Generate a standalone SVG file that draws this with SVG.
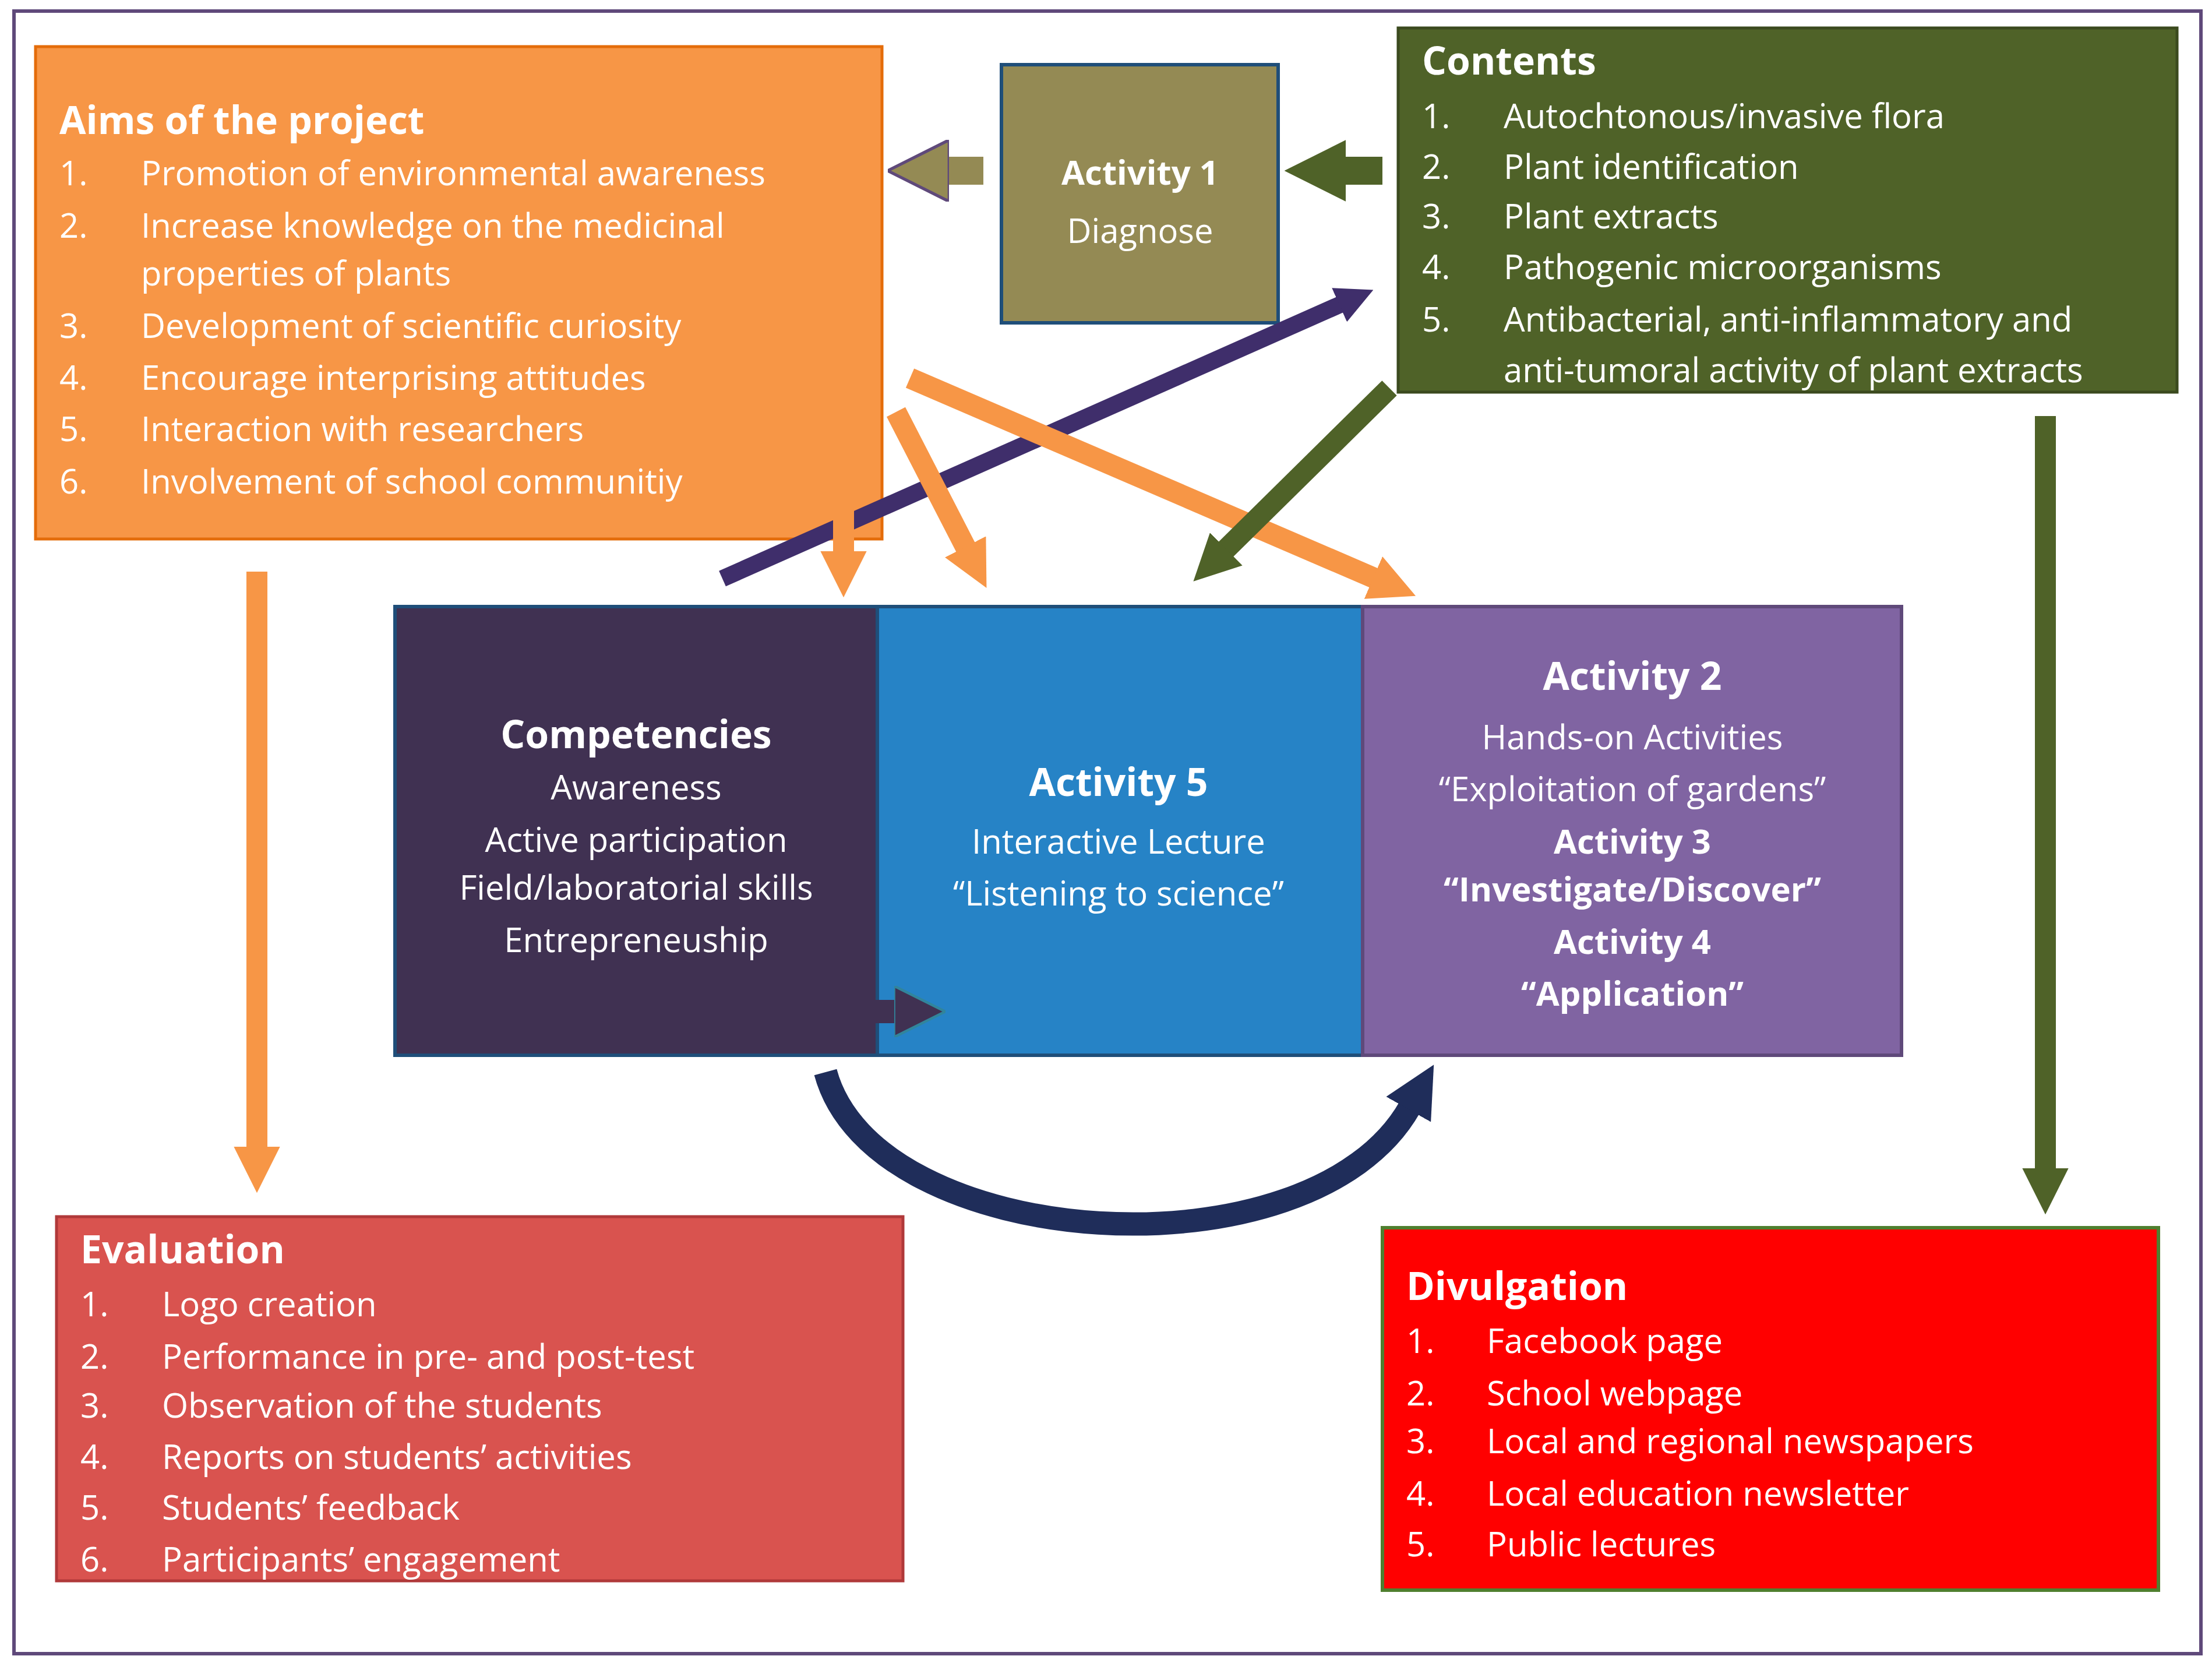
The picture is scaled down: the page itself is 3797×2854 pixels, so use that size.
<svg xmlns="http://www.w3.org/2000/svg" width="3797" height="2854" viewBox="0 0 3797 2854">
<style>
text{font-family:"Open Sans","Liberation Sans",sans-serif;fill:#fff;font-size:58px}
.t{font-weight:bold;font-size:66px}
.c{text-anchor:middle}
.b{font-weight:bold}
</style>
<defs>
<marker id="mo" markerUnits="strokeWidth" viewBox="0 0 10 10" refX="0.5" refY="5" markerWidth="2.2" markerHeight="2.2" orient="auto"><path d="M0,0L10,5L0,10z" fill="#F79646"/></marker>
<marker id="mg" markerUnits="strokeWidth" viewBox="0 0 10 10" refX="0.5" refY="5" markerWidth="2.2" markerHeight="2.2" orient="auto"><path d="M0,0L10,5L0,10z" fill="#4F6228"/></marker>
<marker id="ml" markerUnits="strokeWidth" viewBox="0 0 10 10" refX="0.5" refY="5" markerWidth="2.2" markerHeight="2.2" orient="auto"><path d="M0,0L10,5L0,10z" fill="#948A54" stroke="#5F497A" stroke-width="0.5"/></marker>
<marker id="mp" markerUnits="strokeWidth" viewBox="0 0 10 10" refX="0.5" refY="5" markerWidth="2.2" markerHeight="2.2" orient="auto"><path d="M0,0L10,5L0,10z" fill="#3F2E6B"/></marker>
<marker id="md" markerUnits="strokeWidth" viewBox="0 0 10 10" refX="0.5" refY="5" markerWidth="2.2" markerHeight="2.2" orient="auto"><path d="M0,0L10,5L0,10z" fill="#403152" stroke="#31859C" stroke-width="0.5"/></marker>
<marker id="mn" markerUnits="strokeWidth" viewBox="0 0 10 10" refX="0.5" refY="5" markerWidth="2.2" markerHeight="2.2" orient="auto"><path d="M0,0L10,5L0,10z" fill="#1F2D5A"/></marker>
</defs>
<rect width="3797" height="2854" fill="#fff"/>
<rect x="24" y="19" width="3754" height="2819" fill="none" stroke="#5F497A" stroke-width="6"/>

<g id="aims">
<rect x="61" y="80" width="1453" height="845" fill="#F79646" stroke="#E46C0A" stroke-width="5"/>
<text x="102" y="230" class="t">Aims of the project</text>
<text x="102" y="318">1.</text><text x="242" y="318">Promotion of environmental awareness</text>
<text x="102" y="408">2.</text><text x="242" y="408">Increase knowledge on the medicinal</text>
<text x="242" y="490">properties of plants</text>
<text x="102" y="580">3.</text><text x="242" y="580">Development of scientific curiosity</text>
<text x="102" y="669">4.</text><text x="242" y="669">Encourage interprising attitudes</text>
<text x="102" y="757">5.</text><text x="242" y="757">Interaction with researchers</text>
<text x="102" y="847">6.</text><text x="242" y="847">Involvement of school communitiy</text>
</g>

<g id="activity1">
<rect x="1719" y="111" width="475" height="443" fill="#948A54" stroke="#1F4E79" stroke-width="6"/>
<text x="1957" y="317" class="c b" font-size="66">Activity 1</text>
<text x="1957" y="417" class="c" font-size="66">Diagnose</text>
</g>

<g id="contents">
<rect x="2400" y="48" width="1337" height="625" fill="#4F6228" stroke="#3B4A1E" stroke-width="5"/>
<text x="2441" y="128" class="t">Contents</text>
<text x="2441" y="220">1.</text><text x="2581" y="220">Autochtonous/invasive flora</text>
<text x="2441" y="307">2.</text><text x="2581" y="307">Plant identification</text>
<text x="2441" y="392">3.</text><text x="2581" y="392">Plant extracts</text>
<text x="2441" y="479">4.</text><text x="2581" y="479">Pathogenic microorganisms</text>
<text x="2441" y="569">5.</text><text x="2581" y="569">Antibacterial, anti-inflammatory and</text>
<text x="2581" y="656">anti-tumoral activity of plant extracts</text>
</g>

<g id="competencies">
<rect x="678" y="1041" width="828" height="770" fill="#403152" stroke="#1F4E79" stroke-width="6"/>
<text x="1092" y="1284" class="c t">Competencies</text>
<text x="1092" y="1372" class="c">Awareness</text>
<text x="1092" y="1462" class="c">Active participation</text>
<text x="1092" y="1544" class="c">Field/laboratorial skills</text>
<text x="1092" y="1634" class="c">Entrepreneuship</text>
</g>

<g id="activity5">
<rect x="1506" y="1041" width="833" height="770" fill="#2683C6" stroke="#1F4E79" stroke-width="6"/>
<text x="1920" y="1366" class="c t">Activity 5</text>
<text x="1920" y="1465" class="c" font-size="68">Interactive Lecture</text>
<text x="1920" y="1554" class="c" font-size="56">“Listening to science”</text>
</g>

<g id="activity2">
<rect x="2339" y="1041" width="925" height="770" fill="#8064A2" stroke="#5F497A" stroke-width="6"/>
<text x="2802" y="1184" class="c t">Activity 2</text>
<text x="2802" y="1286" class="c" font-size="68">Hands-on Activities</text>
<text x="2802" y="1375" class="c" font-size="56">“Exploitation of gardens”</text>
<text x="2802" y="1465" class="c b">Activity 3</text>
<text x="2802" y="1547" class="c b">“Investigate/Discover”</text>
<text x="2802" y="1637" class="c b">Activity 4</text>
<text x="2802" y="1726" class="c b">“Application”</text>
</g>

<g id="evaluation">
<rect x="97" y="2088" width="1453" height="625" fill="#D9534F" stroke="#B0393A" stroke-width="5"/>
<text x="138" y="2168" class="t">Evaluation</text>
<text x="138" y="2259">1.</text><text x="278" y="2259">Logo creation</text>
<text x="138" y="2349">2.</text><text x="278" y="2349">Performance in pre- and post-test</text>
<text x="138" y="2433">3.</text><text x="278" y="2433">Observation of the students</text>
<text x="138" y="2521">4.</text><text x="278" y="2521">Reports on students’ activities</text>
<text x="138" y="2608">5.</text><text x="278" y="2608">Students’ feedback</text>
<text x="138" y="2697">6.</text><text x="278" y="2697">Participants’ engagement</text>
</g>

<g id="divulgation">
<rect x="2373" y="2107" width="1332" height="622" fill="#FF0000" stroke="#4F7F2F" stroke-width="6"/>
<text x="2414" y="2231" class="t">Divulgation</text>
<text x="2414" y="2322">1.</text><text x="2552" y="2322">Facebook page</text>
<text x="2414" y="2412">2.</text><text x="2552" y="2412">School webpage</text>
<text x="2414" y="2494">3.</text><text x="2552" y="2494">Local and regional newspapers</text>
<text x="2414" y="2584">4.</text><text x="2552" y="2584">Local education newsletter</text>
<text x="2414" y="2671">5.</text><text x="2552" y="2671">Public lectures</text>
</g>

<g id="connectors" fill="none">
<line x1="1688" y1="293" x2="1624" y2="293" stroke="#948A54" stroke-width="48" marker-end="url(#ml)"/>
<line x1="2373" y1="293" x2="2305" y2="293" stroke="#4F6228" stroke-width="48" marker-end="url(#mg)"/>
<line x1="1240" y1="993" x2="2302" y2="522" stroke="#3F2E6B" stroke-width="29" marker-end="url(#mp)"/>
<line x1="1448" y1="746" x2="1448" y2="950" stroke="#F79646" stroke-width="36" marker-end="url(#mo)"/>
<line x1="1538" y1="707" x2="1659" y2="942" stroke="#F79646" stroke-width="36" marker-end="url(#mo)"/>
<line x1="1562" y1="649" x2="2361" y2="993" stroke="#F79646" stroke-width="36" marker-end="url(#mo)"/>
<line x1="2385" y1="666" x2="2102" y2="945" stroke="#4F6228" stroke-width="36" marker-end="url(#mg)"/>
<line x1="441" y1="981" x2="441" y2="1972" stroke="#F79646" stroke-width="36" marker-end="url(#mo)"/>
<line x1="3511" y1="714" x2="3511" y2="2009" stroke="#4F6228" stroke-width="36" marker-end="url(#mg)"/>
<line x1="1436" y1="1736" x2="1539" y2="1736" stroke="#403152" stroke-width="40" marker-end="url(#md)"/>
<path d="M1417,1840 C1500,2150 2250,2200 2420,1900" stroke="#1F2D5A" stroke-width="40" marker-end="url(#mn)"/>
</g>
</svg>
